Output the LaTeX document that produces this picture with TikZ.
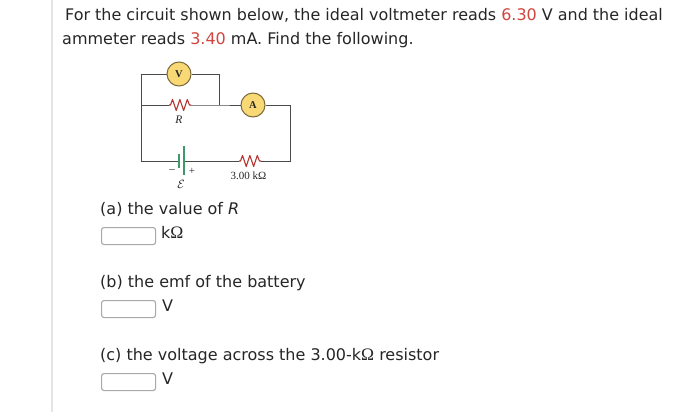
\documentclass[tikz,border=0pt]{standalone}
\usepackage{fontspec}
\setmainfont{DejaVu Sans}
\newfontfamily\serifcirc{Liberation Serif}
\definecolor{txt}{HTML}{262626}
\definecolor{redn}{HTML}{D0453F}
\definecolor{wirec}{HTML}{4A4A4A}
\definecolor{meter}{HTML}{F9D976}
\definecolor{meterline}{HTML}{7A6A3A}
\definecolor{resc}{HTML}{B5352F}
\definecolor{batc}{HTML}{3E9A6B}
\definecolor{boxc}{HTML}{A8A8A8}
\tikzset{
 x=1pt,y=-1pt,
 body/.style={anchor=base west,inner sep=0pt,text=txt,font=\fontsize{16}{18}\selectfont},
 wire/.style={draw=wirec,line width=1pt},
 metr/.style={circle,draw=meterline,line width=1pt,fill=meter,minimum size=24pt,inner sep=0pt,text=txt,font=\serifcirc\bfseries\fontsize{10.5}{11}\selectfont},
 resist/.style={draw=resc,line width=1.1pt,line join=round},
 plate/.style={draw=batc,line width=1.2pt},
 clabel/.style={inner sep=0pt,text=txt,font=\serifcirc\fontsize{11}{12}\selectfont},
 ansbox/.style={draw=boxc,line width=1.1pt,rounded corners=2.5pt,fill=white,minimum width=54pt,minimum height=17pt,inner sep=0pt,anchor=north west},
}
\newcommand{\rd}[1]{\textcolor{redn}{#1}}
\begin{document}
\begin{tikzpicture}
\useasboundingbox (0,0) rectangle (700,412);
\fill[white] (0,0) rectangle (700,412);
\fill[black!10] (50.5,0) rectangle (52.5,412);
\node[body,font=\fontsize{15.95}{18}\selectfont] (l1) at (65,21) {For the circuit shown below, the ideal voltmeter reads \rd{6.30} V and the ideal};
\node[body] (l2) at (62,45) {ammeter reads \rd{3.40} mA. Find the following.};
% circuit
\coordinate (tl) at (141,74);
\coordinate (tr) at (219,74);
\coordinate (ml) at (141,105);
\coordinate (mr) at (219,105);
\coordinate (rr) at (290,105);
\coordinate (bl) at (141,161);
\coordinate (br) at (290,161);
\coordinate (ra) at (169,105);
\coordinate (rb) at (191,105);
\coordinate (sa) at (239,161);
\coordinate (sb) at (261,161);
\coordinate (pa) at (179,161);
\coordinate (pb) at (184,161);
\node[metr] (V) at (179,74) {V};
\node[metr] (A) at (253,105) {A};
\draw[wire] (V) -- (tl) -- (ml) -- (ra);
\draw[wire] (V) -- (tr) -- (mr);
\draw[wire] (rb) -- (mr) -- (A);
\draw[wire] (A) -- (rr) -- (br) -- (sb);
\draw[wire] (sa) -- (pb);
\draw[wire] (pa) -- (bl) -- (ml);
\draw[resist] (ra) -- ++(1.5,0) -- ++(2,-5.5) -- ++(3.7,11) -- ++(3.7,-11) -- ++(3.7,11) -- ++(3.7,-11) -- ++(2.2,5.5) -- (rb);
\draw[resist] (sa) -- ++(1.5,0) -- ++(2,-5.5) -- ++(3.7,11) -- ++(3.7,-11) -- ++(3.7,11) -- ++(3.7,-11) -- ++(2.2,5.5) -- (sb);
\draw[plate] (179,154) -- (179,168);
\draw[plate] (184,146) -- (184,175);
\node[clabel,font=\serifcirc\itshape\fontsize{11.5}{12}\selectfont] (Rl) at (179,119.5) {R};
\node[clabel] (mn) at (172,171) {–};
\node[clabel] (pl) at (192,171) {+};
\node[clabel,font=\fontsize{13}{13}\selectfont] (em) at (181,184) {$\mathcal{E}$};
\node[clabel] (kv) at (248.5,176) {3.00 kΩ};
% questions
\node[body] (qa) at (100,214) {(a) the value of \textit{R}};
\node[ansbox] (ba) at (101,227) {};
\node[body] (ua) at (161,238) {k{\serifcirc\fontsize{17.5}{18}\selectfont Ω}};
\node[body] (qb) at (100,287) {(b) the emf of the battery};
\node[ansbox] (bb) at (101,300) {};
\node[body] (ub) at (162,311) {V};
\node[body] (qc) at (100,360) {(c) the voltage across the 3.00-k{\serifcirc\fontsize{17.5}{18}\selectfont Ω} resistor};
\node[ansbox] (bc) at (101,373) {};
\node[body] (uc) at (162,384) {V};
\end{tikzpicture}
\end{document}
